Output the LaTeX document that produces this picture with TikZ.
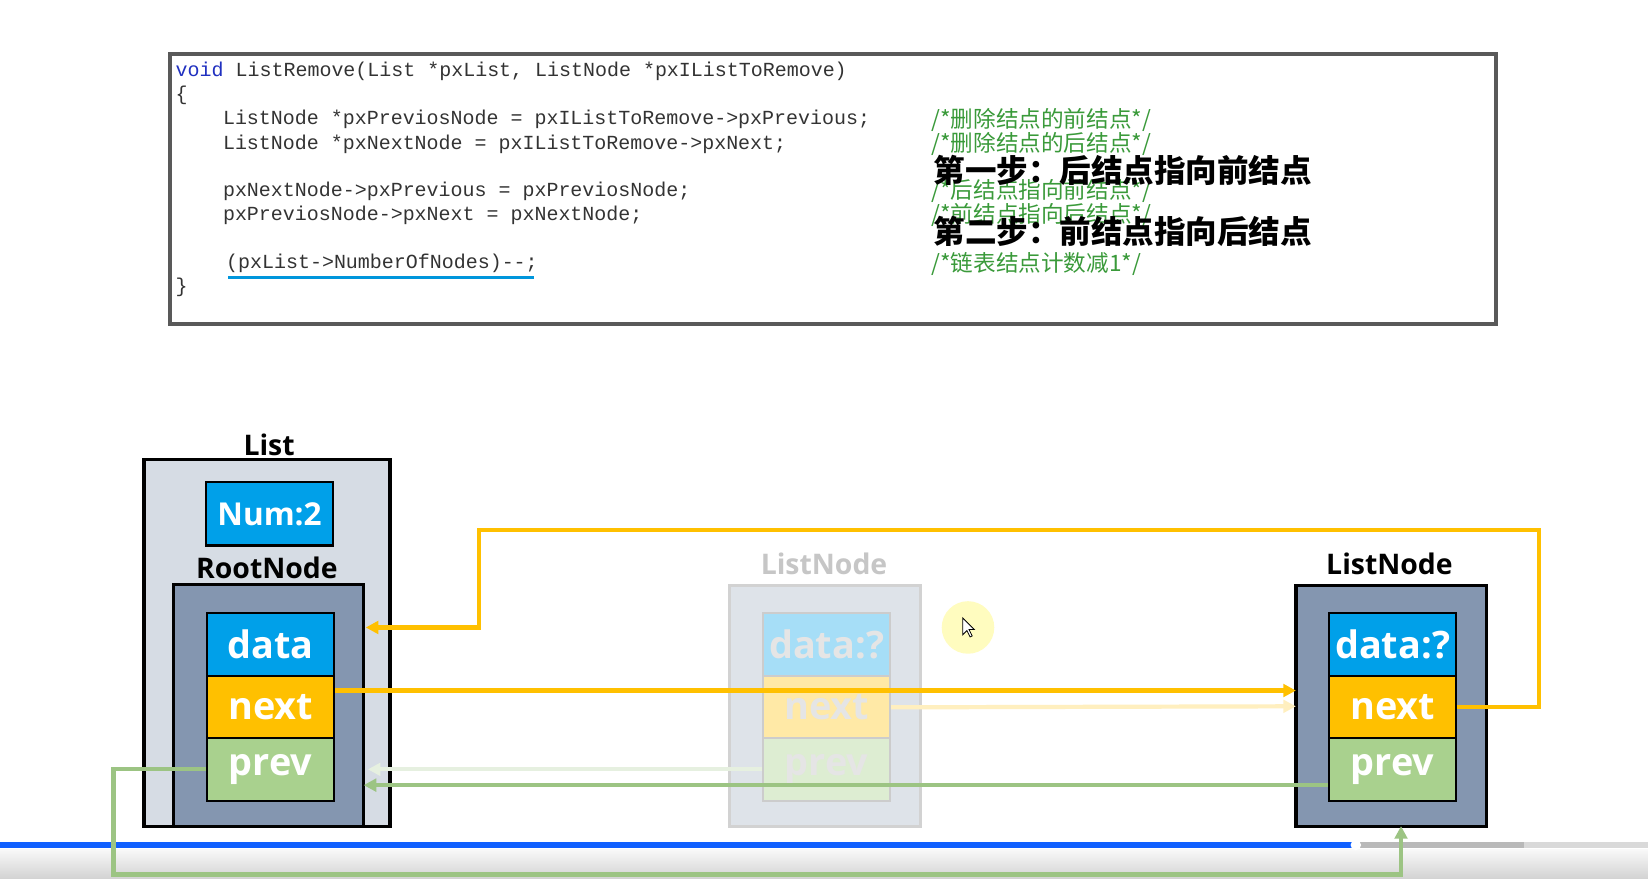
\documentclass[tikz,border=0pt]{standalone}
\usepackage{fontspec}
\setmainfont{Open Sans}
\setmonofont{Liberation Mono}
\newfontfamily\cjk{Noto Sans CJK SC}
\usetikzlibrary{arrows.meta}
\definecolor{codegray}{HTML}{333333}
\definecolor{kwblue}{HTML}{2030C0}
\definecolor{cmtgreen}{HTML}{3A9A3A}
\definecolor{listbg}{HTML}{D6DCE4}
\definecolor{slate}{HTML}{8496B0}
\definecolor{dblue}{HTML}{00A0E9}
\definecolor{orng}{HTML}{FFC000}
\definecolor{grn}{HTML}{A9D18E}
\definecolor{ln}{HTML}{9CC483}
\tikzset{
 code/.style={anchor=west,inner sep=0,text=codegray,font=\fontsize{19}{20}\ttfamily},
 cmt/.style={anchor=west,inner sep=0,text=cmtgreen,font=\fontsize{21.5}{22}\ttfamily\cjk},
 stepcn/.style={anchor=west,inner sep=0,font=\fontsize{30}{32}\cjk\bfseries},
 lbl/.style={inner sep=0,font=\fontsize{27}{28}\selectfont\bfseries},
 cell/.style={draw=black,line width=2pt,minimum width=121pt,minimum height=60pt,inner sep=0,text=white,font=\fontsize{36}{38}\selectfont\bfseries},
 fcell/.style={draw=gray!40,line width=1.5pt,minimum width=121pt,minimum height=60pt,inner sep=0,text=white!80!gray,font=\fontsize{36}{38}\selectfont\bfseries},
 oarr/.style={orng,line width=4pt,-{Triangle[length=12pt,width=12pt]}},
 garr/.style={ln,line width=4pt,-{Triangle[length=12pt,width=12pt]}},
}
\newcommand{\lw}[1]{\raisebox{-5pt}{#1}}
\begin{document}
\begin{tikzpicture}[x=1pt,y=-1pt]
\useasboundingbox (0,0) rectangle (1568,836);
\fill[white] (0,0) rectangle (1568,836);
% code box
\draw[gray!70!black,line width=4pt] (162,51) rectangle (1423,308);
\node[code] (c1) at (167,68) {\textcolor{kwblue}{void} ListRemove(List *pxList, ListNode *pxIListToRemove)};
\node[code] (c2) at (167,91) {\{};
\node[code] (c3) at (212,114) {ListNode *pxPreviosNode = pxIListToRemove->pxPrevious;};
\node[code] (c4) at (212,137) {ListNode *pxNextNode = pxIListToRemove->pxNext;};
\node[code] (c5) at (212,182) {pxNextNode->pxPrevious = pxPreviosNode;};
\node[code] (c6) at (212,205) {pxPreviosNode->pxNext = pxNextNode;};
\node[code] (c7) at (215,251) {(pxList->NumberOfNodes)-{}-;};
\node[code] (c8) at (167,273) {\}};
\draw[color={rgb,255:red,0;green,150;blue,220},line width=3pt] (217,264) -- (508,264);
\node[cmt] (m1) at (886,114) {/*删除结点的前结点*/};
\node[cmt] (m2) at (886,137) {/*删除结点的后结点*/};
\node[cmt] (m3) at (886,182) {/*后结点指向前结点*/};
\node[cmt] (m4) at (886,205) {/*前结点指向后结点*/};
\node[cmt] (m5) at (886,251) {/*链表结点计数减1*/};
\node[stepcn] (s1) at (888,162) {第一步：后结点指向前结点};
\node[stepcn] (s2) at (888,220) {第二步：前结点指向后结点};
% List
\node[lbl] (listlbl) at (256,423) {List};
\draw[fill=listbg,line width=3pt] (137,437) rectangle (371,786);
\node[cell,fill=dblue,font=\fontsize{30}{32}\selectfont\bfseries] (num) at (256.5,489) {\raisebox{-2pt}{Num:2}};
\node[lbl] (rootlbl) at (254,540) {RootNode};
\draw[fill=slate,line width=3pt] (165,556) rectangle (346,786);
\node[cell,fill=dblue] (d1) at (257.5,613) {\lw{data}};
\node[cell,fill=orng] (n1) at (257.5,673) {\lw{next}};
\node[cell,fill=grn] (p1) at (257.5,732) {\lw{prev}};
% faded ListNode
\node[lbl,text=gray!45] (midlbl) at (784,536) {ListNode};
\draw[fill=listbg!80,draw=gray!35,line width=3pt] (694,557) rectangle (876,786);
\node[fcell,fill=dblue!35] (d2) at (786.5,613) {\lw{data:?}};
\node[fcell,fill=orng!35] (n2) at (786.5,673) {\lw{next}};
\node[fcell,fill=grn!40] (p2) at (786.5,732) {\lw{prev}};
% right ListNode
\node[lbl] (rightlbl) at (1322,536) {ListNode};
\draw[fill=slate,line width=3pt] (1233,557) rectangle (1414,786);
\node[cell,fill=dblue] (d3) at (1325,613) {\lw{data:?}};
\node[cell,fill=orng] (n3) at (1325,673) {\lw{next}};
\node[cell,fill=grn] (p3) at (1325,732) {\lw{prev}};
\coordinate (rootR) at (348,597);
\coordinate (rn3) at (1233,657);
\coordinate (rn3b) at (1233,672);
\coordinate (rootP) at (346,747);
\coordinate (rootPb) at (350,732);
\coordinate (bot3) at (1333,786);
% arrows
\draw[oarr] (n3.east) -- ++(78,0) |- (1463,504) -- (456,504) |- (rootR);
\draw[oarr] (n1.east |- 0,657) -- (rn3);
\draw[orng!25,line width=4pt,-{Triangle[length=12pt,width=12pt]}] (n2.east) -- (rn3b);
\draw[garr] (p3.west |- 0,747) -- (rootP);
\draw[ln!25,line width=4pt,-{Triangle[length=12pt,width=12pt]}] (p2.west) -- (rootPb);
% player bar
\shade[top color=gray!5,bottom color=gray!35] (0,808) rectangle (1568,836);
\fill[color={rgb,255:red,16;green,96;blue,255}] (0,801) rectangle (1290,807);
\fill[gray!55] (1290,801) rectangle (1450,807);
\fill[gray!30] (1450,801) rectangle (1568,807);
\fill[white] (1290,804) circle (5);
\draw[garr] (p1.west) -- (108,732) -- (108,832) -- (1333,832) -- (bot3);
% cursor highlight
\fill[yellow!25] (921,597) circle (25);
\draw[fill=white,line width=0.8pt] (916,588) -- (916,604) -- (920,600) -- (923,606) -- (925,605) -- (922,599) -- (927,599) -- cycle;
\end{tikzpicture}
\end{document}
